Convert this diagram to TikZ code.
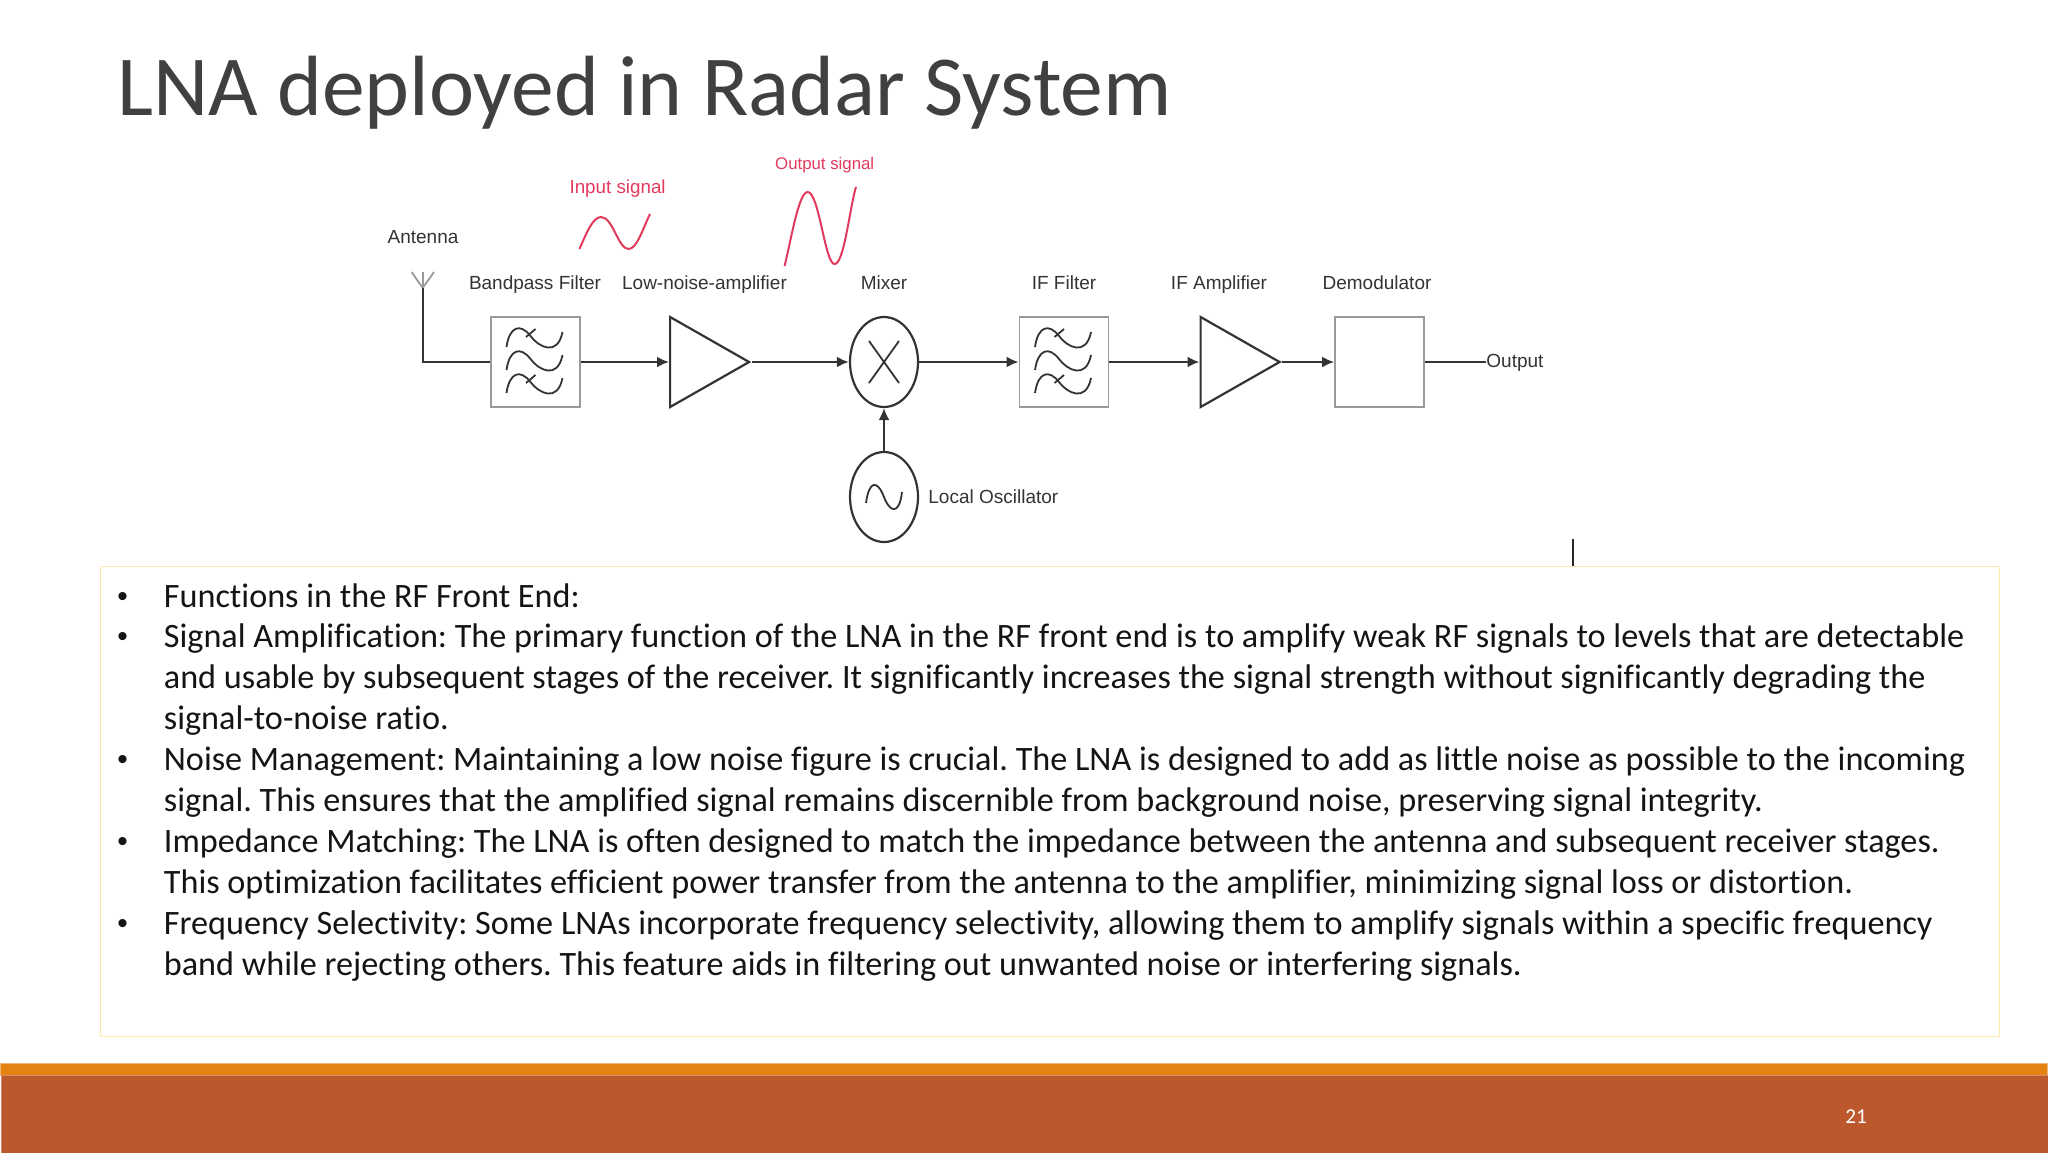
\documentclass[tikz,border=0pt]{standalone}
\usepackage{fontspec}
\setmainfont{Carlito}[Ligatures=NoCommon]
\newfontfamily\labelfont{Liberation Sans}
\usetikzlibrary{arrows.meta, shapes.geometric}

\definecolor{bandorange}{HTML}{E48312}
\definecolor{bandrust}{HTML}{BD582C}
\definecolor{titlegray}{HTML}{404040}
\definecolor{panelline}{HTML}{FFE8AE}
\definecolor{signalred}{HTML}{E23A5C}
\definecolor{linegray}{HTML}{333333}
\definecolor{boxgray}{HTML}{9A9A9A}

\newcommand{\bodybullet}{\hspace{1.5pt}\raisebox{0.5pt}{\labelfont\fontsize{15}{15}\selectfont\textbullet}}

\tikzset{
    sigline/.style={draw=linegray, line width=1.2pt},
    sigarrow/.style={sigline, -{Latex[length=6pt, width=5.5pt]}},
    thinline/.style={draw=linegray, line width=0.9pt},
    boxblock/.style={draw=boxgray, line width=0.9pt, rectangle, inner sep=0pt, minimum width=44.5pt, minimum height=45pt},
    ampblock/.style={draw=linegray, line width=1.1pt, isosceles triangle, isosceles triangle stretches, inner sep=0pt, minimum width=45pt, minimum height=39.5pt, anchor=lower side},
    roundblock/.style={draw=linegray, line width=1.1pt, ellipse, inner sep=0pt, minimum width=34pt, minimum height=45pt},
    blocklabel/.style={font=\labelfont\fontsize{9.5}{11}\selectfont, text=linegray, inner sep=0pt, text height=7pt, text depth=2pt},
    signallabel/.style={font=\labelfont\fontsize{8.4}{10}\selectfont, text=signalred, inner sep=0pt, text height=6pt, text depth=2pt},
    signalwave/.style={draw=signalred, line width=1pt},
    filterwave/.pic={
        \foreach \dy in {-23, 0, 23} {
            \draw[thinline, yshift=\dy*-0.5pt] (-29, 8) .. controls (-26, -13) and (-15, -16) .. (-5, -3) .. controls (3, 8) and (22, 18) .. (27, -7);
        }
        \draw[thinline] (-9.5, -25) -- (0, -33);
        \draw[thinline] (-9.5, 21) -- (0, 13);
    }
}

\begin{document}
\begin{tikzpicture}[x=0.5pt, y=-0.5pt]
    \useasboundingbox (0, 0) rectangle (2048, 1152);

    \node[anchor=base west, inner sep=0pt, text=titlegray, font=\fontsize{42.75}{50}\selectfont] (title) at (117, 115) {LNA deployed in Radar System};

    \coordinate (antennatip) at (422.7, 272);
    \coordinate (antennafork) at (422.7, 288);
    \node[blocklabel] (antennalabel) at (423, 238) {Antenna};

    \node[boxblock] (bpf) at (535.5, 362) {};
    \node[ampblock] (lna) at (669, 362) {};
    \node[roundblock] (mixer) at (884, 362) {};
    \node[boxblock] (iffilter) at (1064, 362) {};
    \node[ampblock] (ifamp) at (1199.5, 362) {};
    \node[boxblock] (demod) at (1379.6, 362) {};
    \node[roundblock] (osc) at (884, 497) {};

    \node[blocklabel] (bpflabel) at (535, 284.5) {Bandpass Filter};
    \node[blocklabel] (lnalabel) at (704.5, 284.5) {Low-noise-amplifier};
    \node[blocklabel] (mixerlabel) at (884, 284.5) {Mixer};
    \node[blocklabel] (iffilterlabel) at (1064, 284.5) {IF Filter};
    \node[blocklabel] (ifamplabel) at (1219, 284.5) {IF Amplifier};
    \node[blocklabel] (demodlabel) at (1377, 284.5) {Demodulator};
    \node[blocklabel, anchor=west] (output) at (1486, 362) {Output};
    \node[blocklabel, anchor=west] (osclabel) at (928, 498) {Local Oscillator};

    \node[signallabel, font=\labelfont\fontsize{9.4}{11}\selectfont] (inputlabel) at (617.6, 189.5) {Input signal};
    \node[signallabel] (outputlabel) at (824.7, 165.5) {Output signal};

    \draw[signalwave] (579.4, 249) .. controls (587, 232) and (593, 217) .. (601, 217) .. controls (613, 217) and (618, 249) .. (628.6, 249) .. controls (637, 249) and (643, 228) .. (650, 214);
    \draw[signalwave] (784.6, 266) .. controls (792, 235) and (799, 192) .. (807.7, 192) .. controls (819, 192) and (825, 264) .. (834.5, 264) .. controls (844, 264) and (849, 212) .. (855.9, 187);

    \draw[thinline, draw=boxgray] (411.6, 272) -- (antennafork) -- (434, 272);
    \draw[thinline, draw=boxgray] (antennatip) -- (antennafork);
    \draw[sigline] (antennafork) |- (bpf);
    \draw[sigarrow] (bpf) -- (lna.lower side);
    \draw[sigarrow] (lna.apex) -- (mixer);
    \draw[sigarrow] (mixer) -- (iffilter);
    \draw[sigarrow] (iffilter) -- (ifamp.lower side);
    \draw[sigarrow] (ifamp.apex) -- (demod);
    \draw[sigline] (demod) -- (output);
    \draw[sigarrow, line width=1pt] (osc) -- (mixer);

    \pic at (535.5, 362) {filterwave};
    \pic at (1064, 362) {filterwave};

    \draw[thinline] ([shift={(-15, -21)}]mixer.center) -- ([shift={(15, 21)}]mixer.center);
    \draw[thinline] ([shift={(15, -21)}]mixer.center) -- ([shift={(-15, 21)}]mixer.center);
    \draw[thinline] ([shift={(-18, 6)}]osc.center) .. controls ([shift={(-15, -16)}]osc.center) and ([shift={(-7, -18)}]osc.center) .. ([shift={(0, 0)}]osc.center) .. controls ([shift={(5, 14)}]osc.center) and ([shift={(15, 20)}]osc.center) .. ([shift={(18, -5)}]osc.center);

    \node[draw=panelline, line width=0.6pt, rectangle, inner sep=0pt, minimum width=949.5pt, minimum height=235pt, anchor=north west] (panel) at (100, 566) {};
    \coordinate (cursorfoot) at (1572.5, 566);
    \draw[draw=black!85, line width=1pt] (1572.5, 539) -- (cursorfoot);

    \node[anchor=north west, inner sep=0pt, text=black!92, font=\fontsize{17.1}{20.45}\selectfont\frenchspacing] (bodytext) at (114, 578) {%
        \begin{tabular}{@{}p{24.75pt}@{}l@{}}
            \bodybullet & Functions in the RF Front End:\\
            \bodybullet & Signal Amplification: The primary function of the LNA in the RF front end is to amplify weak RF signals to levels that are detectable\\
            & and usable by subsequent stages of the receiver. It significantly increases the signal strength without significantly degrading the\\
            & signal-to-noise ratio.\\
            \bodybullet & Noise Management: Maintaining a low noise figure is crucial. The LNA is designed to add as little noise as possible to the incoming\\
            & signal. This ensures that the amplified signal remains discernible from background noise, preserving signal integrity.\\
            \bodybullet & Impedance Matching: The LNA is often designed to match the impedance between the antenna and subsequent receiver stages.\\
            & This optimization facilitates efficient power transfer from the antenna to the amplifier, minimizing signal loss or distortion.\\
            \bodybullet & Frequency Selectivity: Some LNAs incorporate frequency selectivity, allowing them to amplify signals within a specific frequency\\
            & band while rejecting others. This feature aids in filtering out unwanted noise or interfering signals.
        \end{tabular}};

    \node[rectangle, fill=bandorange, draw=bandorange!60!white, line width=0.4pt, inner sep=0pt, minimum width=1023.5pt, minimum height=6pt, anchor=north west] (band) at (0, 1063) {};
    \node[rectangle, fill=bandrust, draw=bandrust!70!white, line width=0.4pt, inner sep=0pt, minimum width=1024pt, minimum height=40pt, anchor=north west] (footer) at (1, 1074.5) {};
    \node[text=white, inner sep=0pt, font=\fontsize{10.6}{12}\selectfont] (pagenum) at (1856, 1117) {21};
\end{tikzpicture}
\end{document}
